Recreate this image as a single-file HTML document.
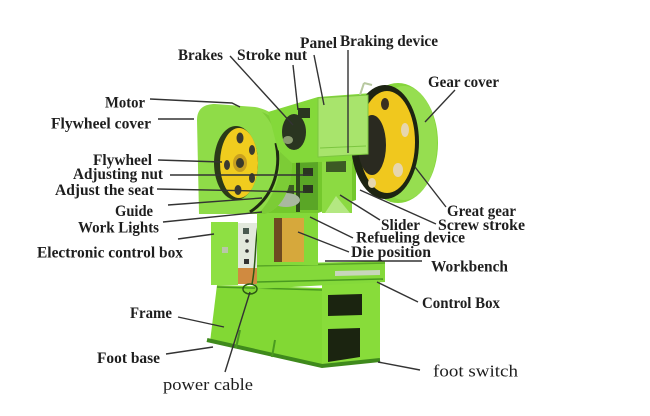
<!DOCTYPE html>
<html><head><meta charset="utf-8"><style>
html,body{margin:0;padding:0;background:#fff;}
svg{display:block;}
text{font-family:"Liberation Serif",serif;fill:#1e1e1e;}
.b{font-weight:bold;font-size:16px;}
.r{font-weight:normal;font-size:17px;}
</style></head><body>
<svg width="650" height="416" viewBox="0 0 650 416" xmlns="http://www.w3.org/2000/svg">
<rect width="650" height="416" fill="#fff"/>
<!-- frame -->
<polygon points="217,285 322,288 322,367 210,342" fill="#82d834"/>
<polygon points="322,283 380,281 380,360 322,367" fill="#88dc3a"/>
<polygon points="328,295 362,294 362,315 328,316" fill="#1b2410"/>
<polygon points="328,329 360,328 360,357 328,362" fill="#1b2410"/>
<polyline points="207,340 322,366 380,360" fill="none" stroke="#3f8a1c" stroke-width="4"/>
<line x1="217" y1="287" x2="322" y2="290" stroke="#4a9a20" stroke-width="1.5"/>
<line x1="240" y1="330" x2="236" y2="348" stroke="#4a9a20" stroke-width="2"/>
<line x1="275" y1="340" x2="272" y2="357" stroke="#4a9a20" stroke-width="2"/>
<!-- workbench -->
<polygon points="255,264 385,261 385,282 255,289" fill="#84d93a"/>
<line x1="255" y1="266" x2="385" y2="263" stroke="#5aa826" stroke-width="1.5"/>
<line x1="257" y1="282" x2="383" y2="279" stroke="#4a9a20" stroke-width="1.5"/>
<polygon points="335,271 380,270 380,275 335,276" fill="#c8d6bc"/>
<!-- left box -->
<rect x="211" y="222" width="27" height="63" fill="#8ee043"/>
<rect x="222" y="247" width="6" height="6" fill="#b9c7a8"/>
<!-- control panel -->
<rect x="238" y="223" width="19" height="48" fill="#e2e8dc"/>
<rect x="238" y="268" width="19" height="16" fill="#d08a40"/>
<rect x="243" y="228" width="6" height="6" fill="#4a5a50"/>
<circle cx="247" cy="241" r="1.8" fill="#333"/>
<circle cx="247" cy="251" r="1.8" fill="#333"/>
<rect x="244" y="259" width="5" height="5" fill="#333"/>
<ellipse cx="250" cy="289" rx="7" ry="5" fill="none" stroke="#2d5a14" stroke-width="1.5"/>
<path d="M258,226 C255,240 256,265 252,284" fill="none" stroke="#2d5a14" stroke-width="1.5"/>
<!-- lower column -->
<rect x="257" y="212" width="61" height="53" fill="#84d93a"/>
<rect x="274" y="218" width="30" height="44" fill="#d6a83c"/>
<rect x="274" y="218" width="8" height="44" fill="#6e4a20"/>
<!-- middle column -->
<polygon points="262,150 356,150 356,200 318,213 262,213" fill="#74c82c"/>
<rect x="296" y="152" width="4" height="60" fill="#2f4a1c"/>
<rect x="300" y="160" width="18" height="50" fill="#5aa626"/>
<rect x="303" y="168" width="10" height="8" fill="#2a3520"/>
<rect x="303" y="185" width="10" height="8" fill="#2a3520"/>
<rect x="270" y="185" width="24" height="10" fill="#3c5a24"/>
<ellipse cx="286" cy="200" rx="14" ry="7" fill="#a9b8a0"/>
<rect x="322" y="157" width="30" height="56" fill="#8cda42"/>
<rect x="326" y="160" width="20" height="12" fill="#3c5a24"/>
<polygon points="325,213 336,196 350,213" fill="#b4e882"/>
<!-- flywheel cover -->
<path d="M197,120 C197,108 205,104 215,104 L255,107 C282,112 292,135 292,160 C292,190 282,208 265,214 L199,214 Z" fill="#8fdc48"/>
<path d="M262,112 C282,120 292,140 292,160 C292,190 282,208 265,214 L258,214 C272,200 280,180 280,160 C280,138 272,122 262,112 Z" fill="#7ccc36"/>
<path d="M276,143 C281,165 276,195 250,212" fill="none" stroke="#1f2a12" stroke-width="3"/>
<!-- flywheel -->
<ellipse cx="236" cy="163" rx="22" ry="37" fill="#2b3a18"/>
<ellipse cx="239" cy="163" rx="19" ry="35" fill="#f0cc1e"/>
<ellipse cx="240" cy="163" rx="7" ry="9" fill="#c8a020"/>
<ellipse cx="240" cy="163" rx="4" ry="5" fill="#3a3a2a"/>
<ellipse cx="240" cy="138" rx="3.5" ry="5.5" fill="#3b3b30"/>
<ellipse cx="252" cy="150" rx="3" ry="5" fill="#3b3b30"/>
<ellipse cx="252" cy="178" rx="3" ry="5" fill="#3b3b30"/>
<ellipse cx="238" cy="190" rx="3.5" ry="5" fill="#3b3b30"/>
<ellipse cx="227" cy="165" rx="3" ry="5" fill="#3b3b30"/>
<!-- top body -->
<polygon points="268,112 318,97 372,93 372,160 292,163 278,150" fill="#84d93a"/>
<ellipse cx="294" cy="132" rx="12" ry="18" fill="#2a3520"/>
<rect x="298" y="108" width="12" height="10" fill="#2a3520"/>
<ellipse cx="288" cy="140" rx="5" ry="4" fill="#8a9a70"/>
<!-- gear cover -->
<ellipse cx="398" cy="143" rx="40" ry="60" fill="#86d63c"/>
<ellipse cx="404" cy="143" rx="33" ry="57" fill="#96de50"/>
<ellipse cx="385" cy="142" rx="34" ry="57" fill="#1d2412"/>
<ellipse cx="387" cy="142" rx="28" ry="51" fill="#f0c81e"/>
<ellipse cx="372" cy="145" rx="14" ry="30" fill="#2a2a20"/>
<ellipse cx="385" cy="104" rx="4" ry="6" fill="#3a3020"/>
<ellipse cx="405" cy="130" rx="4" ry="7" fill="#e6d6ae"/>
<ellipse cx="398" cy="170" rx="5" ry="7" fill="#e6d6ae"/>
<ellipse cx="372" cy="183" rx="4" ry="5" fill="#e6d6ae"/>
<line x1="360" y1="95" x2="364" y2="83" stroke="#b8c8a0" stroke-width="2"/>
<line x1="364" y1="83" x2="372" y2="85" stroke="#b8c8a0" stroke-width="2"/>
<!-- panel box -->
<polygon points="318,98 368,95 368,154 318,157" fill="#a8e46c" stroke="#7cc640" stroke-width="1"/>
<line x1="320" y1="148" x2="366" y2="146" stroke="#7cc640" stroke-width="1"/>
<!-- leader lines -->
<g stroke="#333" stroke-width="1.4" fill="none">
<line x1="230" y1="56" x2="293" y2="125"/>
<line x1="293" y1="65" x2="298" y2="110"/>
<line x1="314" y1="55" x2="324" y2="105"/>
<line x1="348" y1="50" x2="348" y2="153"/>
<line x1="455" y1="90" x2="425" y2="122"/>
<polyline points="150,99 232,103 240,107"/>
<line x1="158" y1="119" x2="194" y2="119"/>
<line x1="158" y1="160" x2="222" y2="162"/>
<line x1="170" y1="175" x2="312" y2="175"/>
<line x1="157" y1="189" x2="305" y2="192"/>
<line x1="168" y1="205" x2="262" y2="198"/>
<line x1="163" y1="222" x2="262" y2="212"/>
<line x1="178" y1="239" x2="214" y2="234"/>
<line x1="178" y1="317" x2="224" y2="327"/>
<line x1="166" y1="354" x2="213" y2="347"/>
<line x1="225" y1="372" x2="250" y2="292"/>
<line x1="415" y1="167" x2="446" y2="207"/>
<line x1="360" y1="190" x2="436" y2="224"/>
<line x1="340" y1="195" x2="380" y2="220"/>
<line x1="310" y1="217" x2="353" y2="238"/>
<line x1="298" y1="232" x2="349" y2="252"/>
<line x1="325" y1="261" x2="422" y2="261"/>
<line x1="377" y1="282" x2="418" y2="302"/>
<line x1="378" y1="362" x2="420" y2="370"/>
</g>
<!-- labels -->
<text class="b" x="178" y="60" textLength="45" lengthAdjust="spacingAndGlyphs">Brakes</text>
<text class="b" x="237" y="60" textLength="70" lengthAdjust="spacingAndGlyphs">Stroke nut</text>
<text class="b" x="300" y="48" textLength="37" lengthAdjust="spacingAndGlyphs">Panel</text>
<text class="b" x="340" y="46" textLength="98" lengthAdjust="spacingAndGlyphs">Braking device</text>
<text class="b" x="428" y="87" textLength="71" lengthAdjust="spacingAndGlyphs">Gear cover</text>
<text class="b" x="105" y="107.5" textLength="40" lengthAdjust="spacingAndGlyphs">Motor</text>
<text class="b" x="51" y="128.5" textLength="100" lengthAdjust="spacingAndGlyphs">Flywheel cover</text>
<text class="b" x="93" y="165" textLength="59" lengthAdjust="spacingAndGlyphs">Flywheel</text>
<text class="b" x="73" y="179" textLength="90" lengthAdjust="spacingAndGlyphs">Adjusting nut</text>
<text class="b" x="55" y="195" textLength="99" lengthAdjust="spacingAndGlyphs">Adjust the seat</text>
<text class="b" x="115" y="216" textLength="38" lengthAdjust="spacingAndGlyphs">Guide</text>
<text class="b" x="78" y="232.5" textLength="81" lengthAdjust="spacingAndGlyphs">Work Lights</text>
<text class="b" x="37" y="257.5" textLength="146" lengthAdjust="spacingAndGlyphs">Electronic control box</text>
<text class="b" x="130" y="318" textLength="42" lengthAdjust="spacingAndGlyphs">Frame</text>
<text class="b" x="97" y="363" textLength="63" lengthAdjust="spacingAndGlyphs">Foot base</text>
<text class="r" x="163" y="390" textLength="90" lengthAdjust="spacingAndGlyphs">power cable</text>
<text class="b" x="447" y="216" textLength="69" lengthAdjust="spacingAndGlyphs">Great gear</text>
<text class="b" x="438" y="230" textLength="87" lengthAdjust="spacingAndGlyphs">Screw stroke</text>
<text class="b" x="381" y="230" textLength="39" lengthAdjust="spacingAndGlyphs">Slider</text>
<text class="b" x="356" y="242.5" textLength="109" lengthAdjust="spacingAndGlyphs">Refueling device</text>
<text class="b" x="351" y="257" textLength="80" lengthAdjust="spacingAndGlyphs">Die position</text>
<text class="b" x="431" y="271.5" textLength="77" lengthAdjust="spacingAndGlyphs">Workbench</text>
<text class="b" x="422" y="308" textLength="78" lengthAdjust="spacingAndGlyphs">Control Box</text>
<text class="r" x="433" y="376.5" textLength="85" lengthAdjust="spacingAndGlyphs">foot switch</text>
</svg>
</body></html>
